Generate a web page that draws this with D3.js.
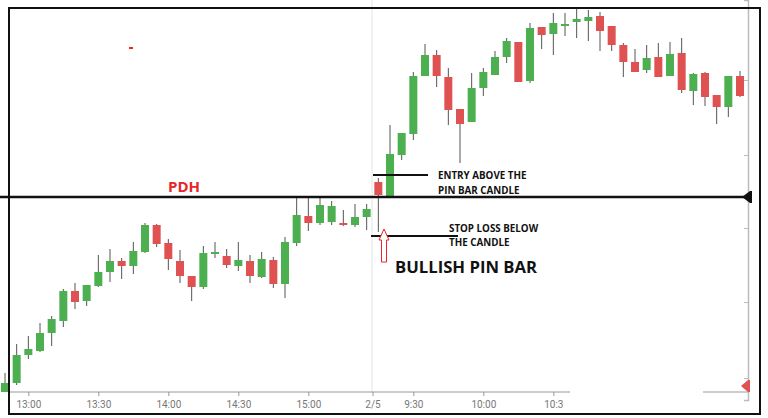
<!DOCTYPE html>
<html><head><meta charset="utf-8">
<script src="https://cdn.jsdelivr.net/npm/d3@7"></script>
<style>body{margin:0;background:#fff}svg{display:block}</style>
</head><body><svg id="c" width="768" height="418"></svg>
<script>
// prices (chart units, higher = up)
var opens  = [8,17,45,49,67,79,109,99,114,128,139,134,148,175,157,139,124,113,146,144,134,139,123,140,116,157,184,177,178,177,175,183,218,203,245,266,324,345,323,291,278,312,325,343,358,319,373,366,376,378,379,384,374,355,338,330,343,324,347,309,327,305,293,324];
var closes = [17,45,51,67,81,109,98,115,128,139,134,149,175,156,141,124,113,147,148,135,140,124,141,116,158,185,177,195,194,175,183,191,205,246,267,324,345,324,290,276,312,328,343,359,318,372,365,377,376,381,383,369,355,338,328,342,323,346,310,326,303,293,324,304];
var highs  = [27,56,64,77,84,111,117,115,145,151,142,158,177,176,161,150,124,154,158,151,158,145,148,143,163,203,203,203,199,190,196,196,222,275,267,328,356,350,332,291,327,332,349,362,358,377,373,387,387,392,390,388,374,357,351,355,357,358,362,327,328,305,324,329];
var lows   = [8,15,41,48,54,73,91,94,113,118,121,126,147,153,130,117,99,111,142,132,129,117,122,112,102,154,169,175,175,174,173,170,168,203,240,260,325,313,275,237,278,304,325,337,318,317,351,345,364,362,359,349,349,323,328,327,323,324,307,295,294,276,283,303];
var tickLabels = ["13:00","13:30","14:00","14:30","15:00","2/5","9:30","10:00","10:3"];
var tickIndex  = [2,8,14,20,26,31.5,35,41,47];

var svg = d3.select("#c");
var x = d3.scaleLinear().domain([0,63]).range([5,740]);
var y = d3.scaleLinear().domain([0,400]).range([400,0]);
var green = "#4caf50", red = "#e05252";

// session separator
svg.append("line").attr("x1",372).attr("x2",372).attr("y1",0).attr("y2",392).attr("stroke","#e4e4e4");

// right price axis
var ax = d3.axisRight(y).tickValues([22,98,172,245,320]).tickSize(-4).tickFormat("");
svg.append("g").attr("transform","translate(748,0)").call(ax)
  .call(function(g){g.select(".domain").attr("stroke","#bbb").attr("stroke-width",1.5);g.selectAll("line").attr("stroke","#bbb");});

// bottom time axis
var xa = d3.axisBottom(x).tickValues(tickIndex).tickSize(4).tickFormat(function(d,i){return tickLabels[i];});
var gx = svg.append("g").attr("transform","translate(0,392)").call(xa);
gx.select(".domain").attr("stroke","#999").attr("d","M9,0H570");
gx.selectAll("line").attr("stroke","#999");
gx.selectAll("text").attr("fill","#777").attr("font-family","Roboto").attr("font-size",10).attr("dy","0.9em");
svg.append("line").attr("x1",703).attr("x2",748).attr("y1",392).attr("y2",392).attr("stroke","#999");

// candles
var idx = d3.range(opens.length);
var cg = svg.append("g");
cg.selectAll("line.w").data(idx).join("line")
  .attr("x1",function(i){return x(i);}).attr("x2",function(i){return x(i);})
  .attr("y1",function(i){return y(highs[i]);}).attr("y2",function(i){return y(lows[i]);})
  .attr("stroke","#555").attr("stroke-width",1);
cg.selectAll("rect").data(idx).join("rect")
  .attr("x",function(i){return x(i)-4;}).attr("width",8)
  .attr("y",function(i){return y(Math.max(opens[i],closes[i]));})
  .attr("height",function(i){return Math.max(2,Math.abs(y(opens[i])-y(closes[i])));})
  .attr("fill",function(i){return closes[i]>=opens[i]?green:red;});

// frame
svg.append("rect").attr("x",9).attr("y",8).attr("width",751).attr("height",406)
  .attr("fill","none").attr("stroke","#111").attr("stroke-width",2);

// PDH line
svg.append("line").attr("x1",0).attr("x2",748).attr("y1",197).attr("y2",197).attr("stroke","#111").attr("stroke-width",2.5);
svg.append("path").attr("d","M742,197L750,191L752,191L752,203L750,203Z").attr("fill","#111");
svg.append("path").attr("d","M741,386L748,380L750,380L750,392L748,392Z").attr("fill","#e05252");
svg.append("text").attr("x",168).attr("y",192).text("PDH").attr("fill","#e8262b")
  .attr("font-family","Open Sans").attr("font-weight","bold").attr("font-size",15);
svg.append("line").attr("x1",129).attr("x2",133).attr("y1",48).attr("y2",48).attr("stroke","#e8262b").attr("stroke-width",2);

// annotations
svg.append("line").attr("x1",373).attr("x2",428).attr("y1",175).attr("y2",175).attr("stroke","#111").attr("stroke-width",2);
svg.append("line").attr("x1",371).attr("x2",458).attr("y1",236).attr("y2",236).attr("stroke","#111").attr("stroke-width",2);
var notes = [["ENTRY ABOVE THE",438,179],["PIN BAR CANDLE",438,194],["STOP LOSS BELOW",449,232],["THE CANDLE",449,246]];
svg.selectAll("text.n").data(notes).join("text")
  .attr("x",function(d){return d[1];}).attr("y",function(d){return d[2];}).text(function(d){return d[0];})
  .attr("font-family","Open Sans").attr("font-weight","bold").attr("font-size",9.8).attr("fill","#111");
svg.append("text").attr("x",395).attr("y",273).text("BULLISH PIN BAR")
  .attr("font-family","Open Sans").attr("font-weight","bold").attr("font-size",16.5).attr("fill","#111")
  .attr("textLength",142).attr("lengthAdjust","spacingAndGlyphs");
svg.append("path").attr("d","M384,229L389,240H386.5V262H381.5V240H379Z").attr("fill","#fff").attr("stroke","#e8262b").attr("stroke-width",1);
</script></body></html>
